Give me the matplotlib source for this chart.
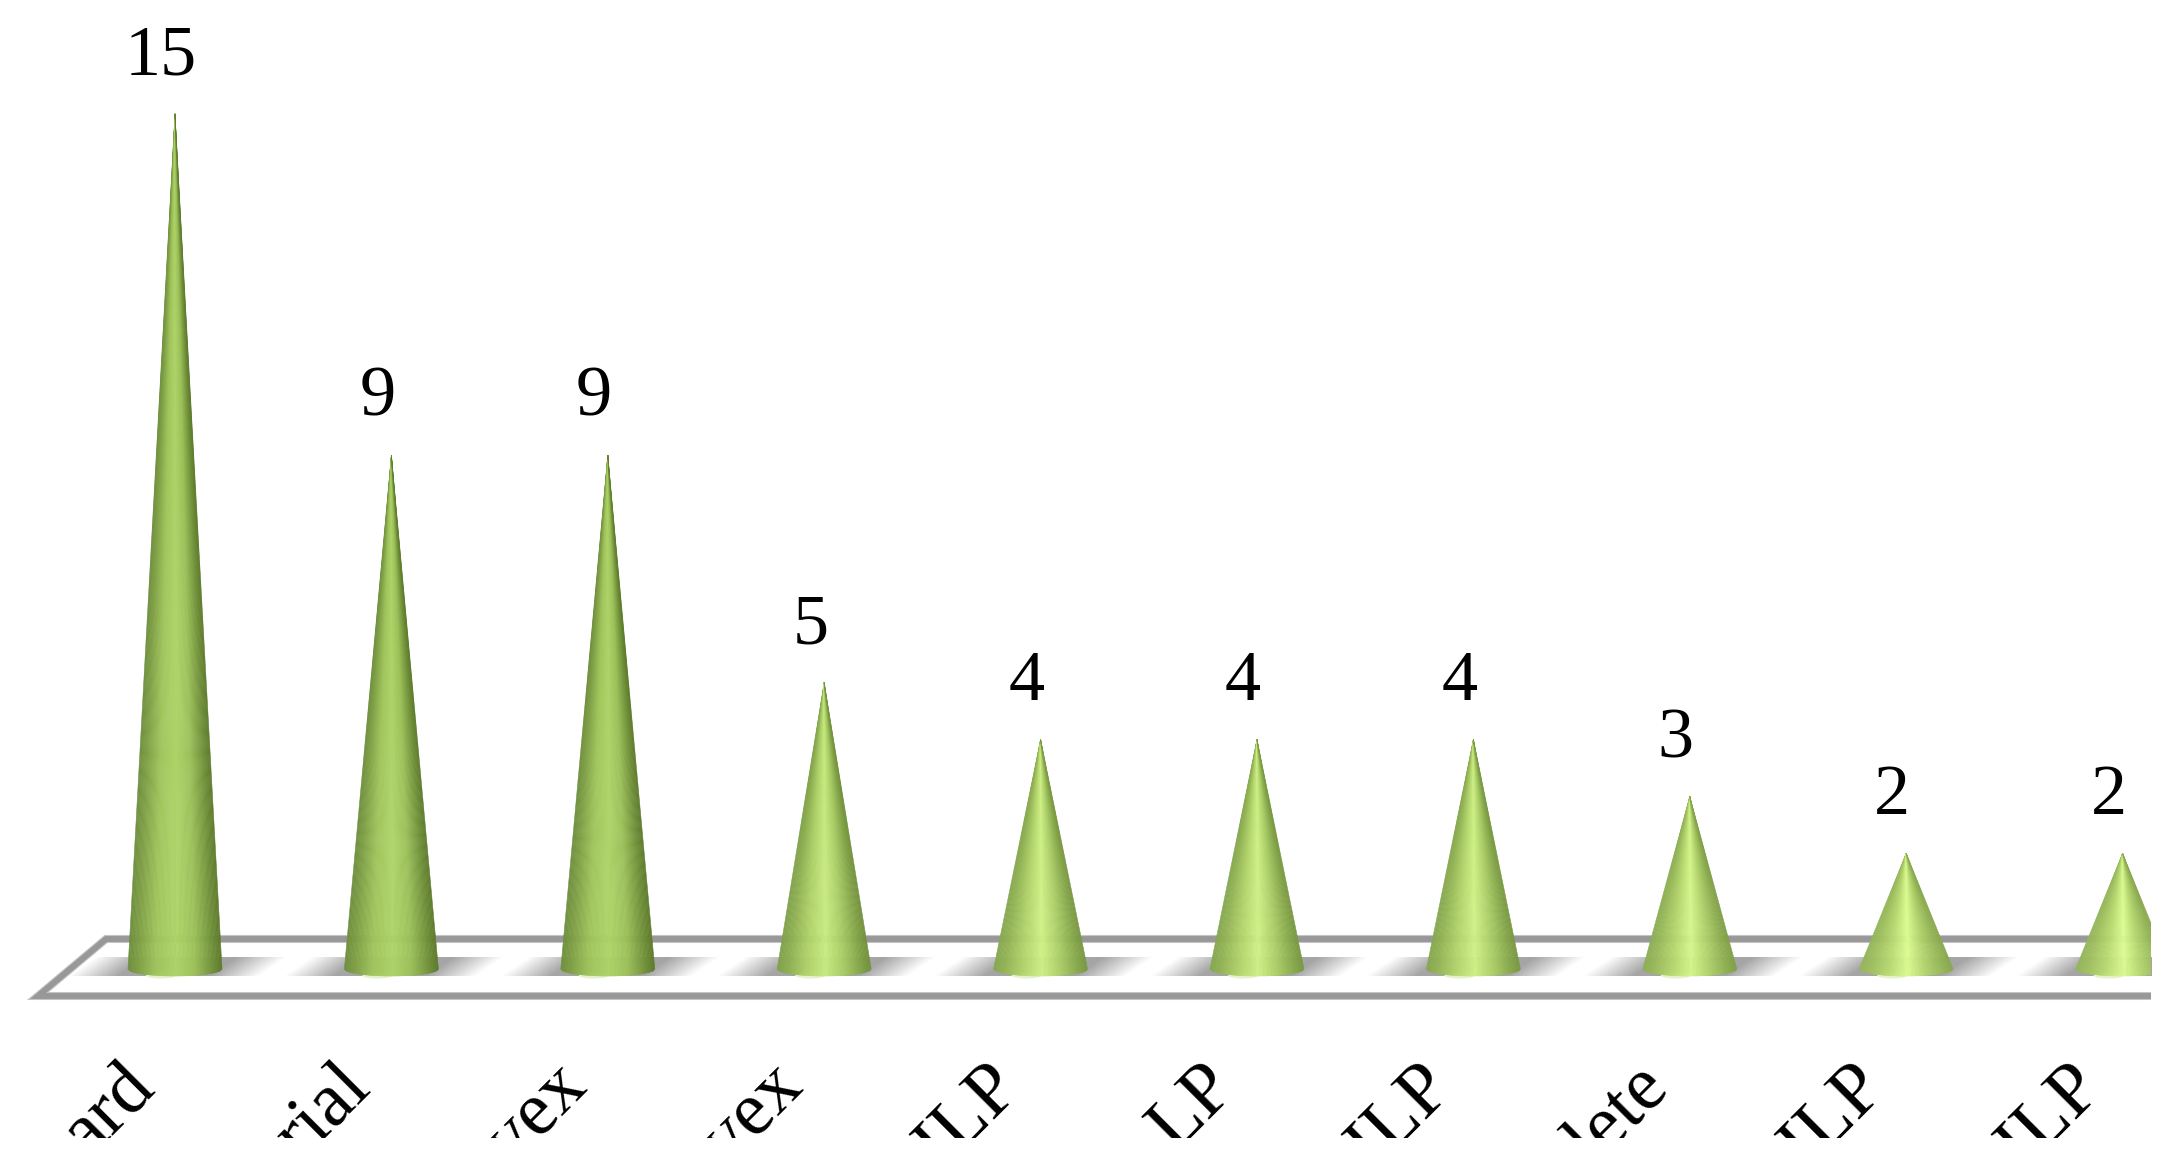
# -*- coding: utf-8 -*-
"""
Cone chart with a grey floor and cropped, slanted category labels.
"""

import numpy as np
import matplotlib
matplotlib.use('Agg')
import matplotlib.pyplot as plt
from matplotlib.collections import PolyCollection
from matplotlib.colors import to_rgb
from matplotlib.patches import Ellipse, Rectangle

# Only the visible part of each category label survives in the picture
categories = ['ard', 'rial', 'vex', 'vex', 'ILP', 'LP', 'ILP', 'lete', 'ILP', 'ILP']
values = [15, 9, 9, 5, 4, 4, 4, 3, 2, 2]

WIDTH, HEIGHT = 2176, 1164
CONTENT_WIDTH = 2151                # the drawing stops short of the right edge
X0_PX, X_STEP_PX = 175.0, 216.4     # pixel of first cone, pixels per category
Y0_PX, Y_STEP_PX = 967.0, 56.85     # pixel of value 0, pixels per unit

plt.rcParams['font.family'] = ['Liberation Serif', 'DejaVu Serif']


def px_x(px):
    """Width in pixels to category units."""
    return px / X_STEP_PX


def px_y(px):
    """Height in pixels to value units."""
    return px / Y_STEP_PX


def cone_colours(value, n):
    """Colours across the cone, left edge to right edge."""
    blend = np.clip((9 - value) / 7, 0, 1)
    light = (1 - blend) * np.array(to_rgb('#aed468')) + blend * np.array(to_rgb('#dcfc92'))
    stops = [0.0, 0.1, 0.3, 0.52, 0.72, 0.92, 1.0]
    shades = ['#6f9040', '#7f9f45', '#94b650', None, '#8cae4c', '#6f8f38', '#5f7d2e']
    mixes = [0.35 * blend, 0.35 * blend, 0.5, 1.0, 0.5, 0.35 * blend, 0.35 * blend]
    cols = []
    for shade, mix in zip(shades, mixes):
        base = light if shade is None else np.array(to_rgb(shade))
        cols.append(mix * light + (1 - mix) * base)
    cols = np.array(cols)
    u = np.linspace(0, 1, n)
    return np.column_stack([np.interp(u, stops, cols[:, c]) for c in range(3)])


def draw_cone(ax, pos, value):
    """Draws one cone as thin strips running from the base ellipse to the tip."""
    half_w = px_x(47)
    drop = px_y(2)
    half_h = px_y(7)
    n = 70
    # even steps across the width, projected back on to the front of the base
    edges = np.linspace(-1, 1, n + 1)
    base_x = pos + half_w * edges
    base_y = -drop - half_h * np.sqrt(1 - edges ** 2)
    strips = []
    for k in range(n):
        strips.append([(pos, value), (base_x[k], base_y[k]), (base_x[k + 1], base_y[k + 1])])
    colours = cone_colours(value, n)
    ax.add_collection(PolyCollection(strips, facecolors=colours, edgecolors=colours,
                                     linewidths=0.4, zorder=4))
    # pale glow just under the foot of the cone
    ax.add_patch(Ellipse((pos - px_x(14), -px_y(8.5)), px_x(30), px_y(6),
                         facecolor='#e6f2cc', edgecolor='none', zorder=3))


def draw_shadow(ax, pos):
    """Soft grey band on the floor around the foot of a cone."""
    half_total = px_x(96)
    fade = px_x(50)
    left = pos - half_total - px_x(14)
    right = pos + half_total + px_x(18)
    y_low, y_high = -px_y(9), px_y(10)
    xs = np.linspace(left, right, 160)
    ys = np.linspace(y_high, y_low, 24)
    grid_x, grid_y = np.meshgrid(xs, ys)
    # the band's ends lean over to the right towards the back of the floor
    skew = (grid_y - y_low) / (y_high - y_low) * px_x(27) - px_x(11)
    dist = np.abs(grid_x - pos - skew)
    alpha = np.clip((half_total - dist) / fade, 0, 1)
    rgba = np.ones((24, 160, 4))
    rgba[..., :3] = 0.65
    rgba[..., 3] = alpha
    ax.imshow(rgba, extent=(left, right, y_low, y_high), aspect='auto',
              interpolation='bilinear', zorder=2)


def main():
    fig = plt.figure(figsize=(WIDTH / 100, HEIGHT / 100), dpi=100)
    ax = fig.add_axes([0, 0, CONTENT_WIDTH / WIDTH, 1])

    positions = np.arange(len(categories))

    # --- Floor ---
    back_y, front_y = px_y(Y0_PX - 939), px_y(Y0_PX - 996)
    x_left = -px_x(X0_PX - 38)
    x_back = -px_x(X0_PX - 106)
    x_end = px_x(CONTENT_WIDTH - X0_PX) + 0.1
    outline_x = [x_end, x_back, x_left, x_end]
    outline_y = [back_y, back_y, front_y, front_y]
    ax.plot(outline_x, outline_y, color='#c4c4c4', lw=5.8, solid_joinstyle='miter', zorder=1)
    ax.plot(outline_x, outline_y, color='#989898', lw=4.2, solid_joinstyle='miter', zorder=1)

    # --- Cones ---
    for pos in positions:
        draw_shadow(ax, pos)
    for pos, value in zip(positions, values):
        draw_cone(ax, pos, value)
        ax.annotate(str(value), (pos, value), xytext=(-10, 41), textcoords='offset points',
                    ha='center', va='center', fontsize=52, color='black', zorder=5)

    # --- Category labels, cut off near the bottom edge ---
    clip = Rectangle((-2, px_y(Y0_PX - 1138)), 14, 3, transform=ax.transData)
    for pos, label in zip(positions, categories):
        txt = ax.annotate(label, (pos, 0), xytext=(-23, -78.5), textcoords='offset points',
                          rotation=45, rotation_mode='anchor', ha='right', va='center',
                          fontsize=55, color='black', zorder=5)
        txt.set_clip_path(clip)

    ax.set_xlim(-px_x(X0_PX), px_x(CONTENT_WIDTH - X0_PX))
    ax.set_ylim(-px_y(HEIGHT - Y0_PX), px_y(Y0_PX))
    ax.axis('off')

    fig.savefig('out.png', dpi=100, facecolor='white')


if __name__ == '__main__':
    main()
